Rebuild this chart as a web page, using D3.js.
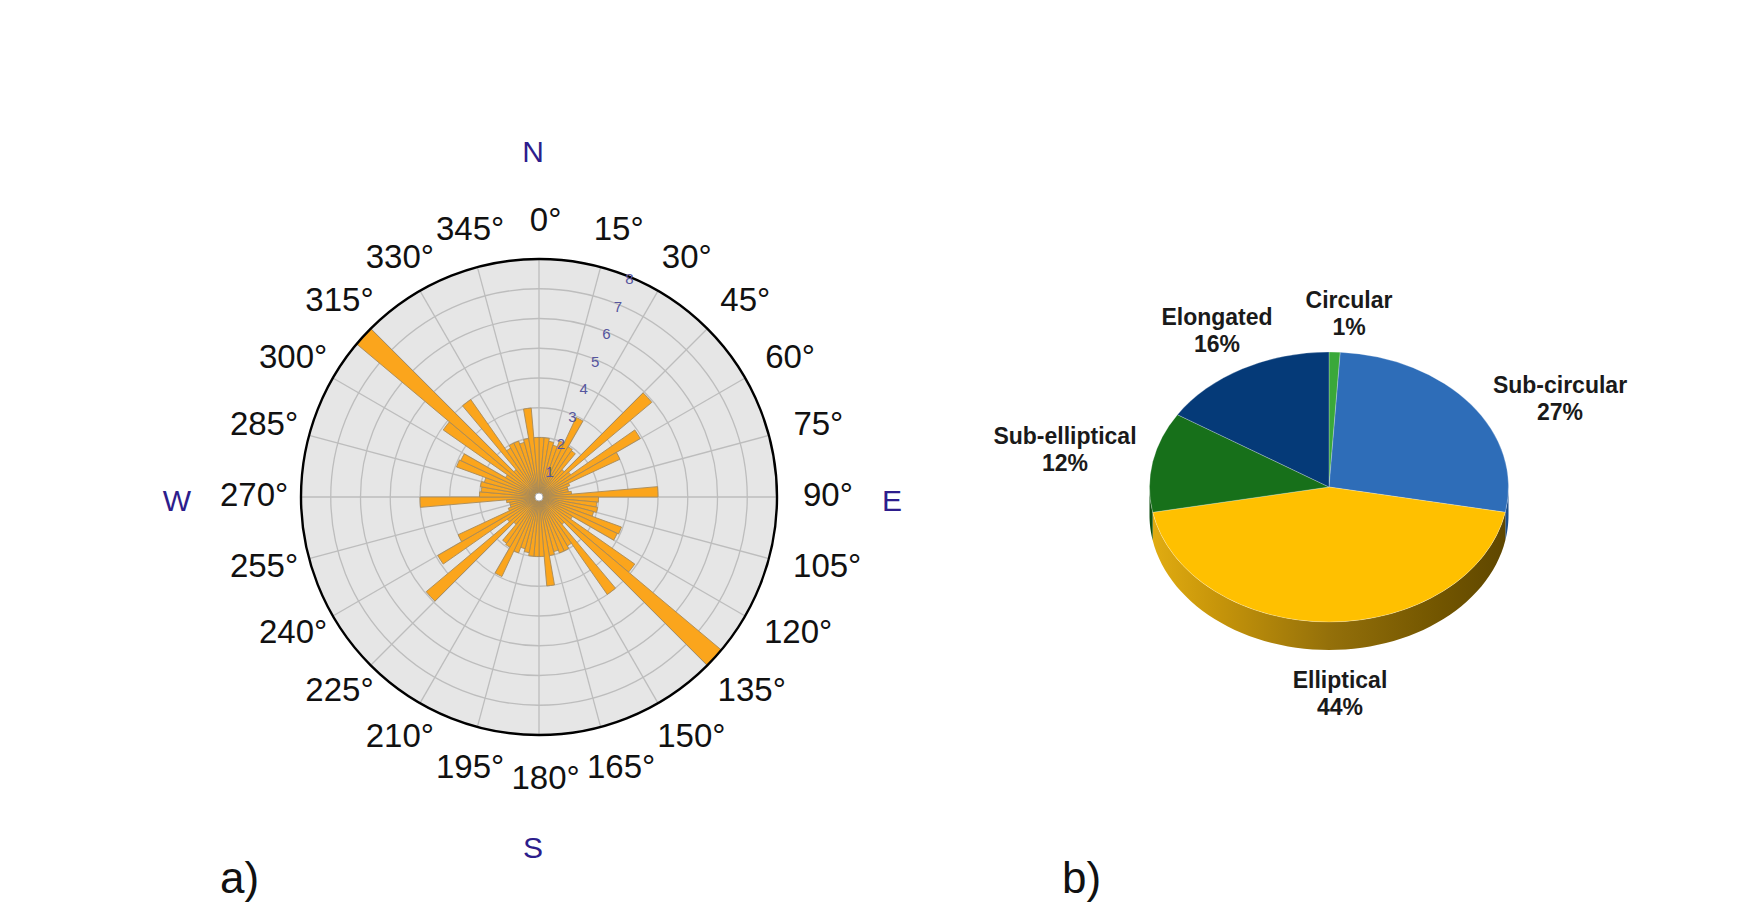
<!DOCTYPE html>
<html><head><meta charset="utf-8">
<script src="https://cdn.jsdelivr.net/npm/d3@7"></script>
<style>body{margin:0;background:#fff}svg{display:block}</style>
</head><body>
<svg id="c" width="1737" height="916"></svg>
<script>
// ---------- DATA ----------
const binWidthDeg = 5;
// counts per 5-degree bin, starting at 0-5 deg, clockwise from North
const roseCounts = [
  2.0, 2.0, 1.9, 1.8, 2.0, 2.95, 1.95, 1.9, 1.2, 4.95, 1.3, 3.93,
  3.0, 1.1, 1.0, 1.0, 1.1, 4.0, 2.0, 1.95, 2.0, 1.9, 2.95, 2.9,
  1.3, 3.93, 8.0, 1.2, 4.0, 1.9, 2.0, 2.0, 1.9, 2.0, 3.0, 2.0,
  2.0, 2.0, 1.9, 1.8, 2.0, 2.95, 1.95, 1.9, 1.2, 4.95, 1.3, 3.93,
  3.0, 1.1, 1.0, 1.0, 1.1, 4.0, 2.0, 1.95, 2.0, 1.9, 2.95, 2.9,
  1.3, 3.93, 8.0, 1.2, 4.0, 1.9, 2.0, 2.0, 1.9, 2.0, 3.0, 2.0
];
const ringTicks = [1, 2, 3, 4, 5, 6, 7, 8];
const angleTicks = [0, 15, 30, 45, 60, 75, 90, 105, 120, 135, 150, 165,
                    180, 195, 210, 225, 240, 255, 270, 285, 300, 315, 330, 345];
const compassLabels = ["N", "E", "S", "W"];

const pieCategories = ["Circular", "Sub-circular", "Elliptical", "Sub-elliptical", "Elongated"];
const pieValues = [1, 27, 44, 12, 16];
const pieColors = ["#3aa83a", "#2e6db8", "#ffc000", "#17701a", "#053a78"];
const pieSideColors = ["#2a8a2a", "#1d4f8c", null, "#0f5010", "#032a58"];

// ---------- ROSE ----------
const svg = d3.select("#c");
const font = "'Liberation Sans', Arial, Helvetica, sans-serif";
const cx = 539, cy = 497, R = 238;
const rScale = d3.scaleLinear().domain([0, 8]).range([0, R]);
const deg = Math.PI / 180;

const rose = svg.append("g").attr("transform", `translate(${cx},${cy})`);
rose.append("circle").attr("r", R).attr("fill", "#e6e6e6");

// grid circles
rose.selectAll("circle.grid").data(ringTicks.slice(0, -1)).join("circle")
  .attr("class", "grid").attr("r", d => rScale(d))
  .attr("fill", "none").attr("stroke", "#bdbdbd").attr("stroke-width", 1.3);
// spokes
rose.selectAll("line.spoke").data(angleTicks).join("line")
  .attr("x1", 0).attr("y1", 0)
  .attr("x2", d => R * Math.sin(d * deg)).attr("y2", d => -R * Math.cos(d * deg))
  .attr("stroke", "#bdbdbd").attr("stroke-width", 1.3);

// bars
const arc = d3.arc();
rose.selectAll("path.bar").data(roseCounts).join("path")
  .attr("class", "bar")
  .attr("d", (v, i) => arc({
    innerRadius: 0, outerRadius: rScale(v),
    startAngle: i * binWidthDeg * deg, endAngle: (i + 1) * binWidthDeg * deg
  }))
  .attr("fill", "#fba51c").attr("stroke", "#a88a58").attr("stroke-width", 0.9)
  .attr("stroke-linejoin", "round");

// center marker
rose.append("circle").attr("r", 4).attr("fill", "#fff").attr("stroke", "#aaa").attr("stroke-width", 1);

// outer circle
rose.append("circle").attr("r", R).attr("fill", "none").attr("stroke", "#000").attr("stroke-width", 2.4);

// ring labels at 22.5 deg
const ringAng = 22.5 * deg;
rose.selectAll("text.rtick").data(ringTicks).join("text")
  .attr("x", d => (rScale(d) - 2) * Math.sin(ringAng))
  .attr("y", d => -(rScale(d) - 2) * Math.cos(ringAng) + 5.4)
  .attr("text-anchor", "middle")
  .attr("font-family", font).attr("font-size", 15).attr("fill", "#55559e")
  .text(d => d);

// angle tick labels
const tickFs = 33, R0 = 264, hh = 11;
angleTicks.forEach(a => {
  const s = Math.sin(a * deg), c = Math.cos(a * deg);
  const t = rose.append("text")
    .attr("font-family", font).attr("font-size", tickFs).attr("fill", "#111")
    .text(String(a));
  const wNum = t.node().getComputedTextLength();
  const px = R0 * s, py = -R0 * c;
  const ncx = px + (wNum / 2) * s;
  const ncy = py - hh * c - 3 + 8 * Math.pow(Math.max(0, -c), 6);
  t.attr("x", ncx - wNum / 2).attr("y", ncy + 0.358 * tickFs);
  t.text(a + "°");
});

// compass labels
const compassPos = { N: [-6, -346], E: [353, 3], S: [-6, 350], W: [-362, 3] };
rose.selectAll("text.comp").data(compassLabels).join("text")
  .attr("x", d => compassPos[d][0]).attr("y", d => compassPos[d][1] + 11)
  .attr("text-anchor", "middle")
  .attr("font-family", font).attr("font-size", 30).attr("fill", "#2d1d8c")
  .text(d => d);

svg.append("text").attr("x", 220).attr("y", 893)
  .attr("font-family", font).attr("font-size", 44).attr("fill", "#111").text("a)");
svg.append("text").attr("x", 1062).attr("y", 893)
  .attr("font-family", font).attr("font-size", 44).attr("fill", "#111").text("b)");

// ---------- PIE ----------
const pcx = 1329, pcy = 487, rx = 179.5, ry = 135, depth = 28;
const pie = d3.pie().sort(null).value(d => d)(pieValues);

const defs = svg.append("defs");
const grad = defs.append("linearGradient").attr("id", "goldSide")
  .attr("gradientUnits", "userSpaceOnUse")
  .attr("x1", pcx - rx).attr("x2", pcx + rx).attr("y1", 0).attr("y2", 0);
[[0, "#e2ad12"], [0.18, "#c8960a"], [0.5, "#94700a"], [0.8, "#735600"], [1, "#5e4600"]]
  .forEach(([o, c]) => grad.append("stop").attr("offset", o).attr("stop-color", c));

const ex = a => pcx + rx * Math.sin(a);
const ey = a => pcy - ry * Math.cos(a);
const sideG = svg.append("g");
pie.forEach((p, i) => {
  const a0 = Math.max(p.startAngle, Math.PI / 2), a1 = Math.min(p.endAngle, 3 * Math.PI / 2);
  if (a1 <= a0) return;
  const n = 60, pts = [];
  for (let k = 0; k <= n; k++) { const a = a0 + (a1 - a0) * k / n; pts.push([ex(a), ey(a)]); }
  for (let k = n; k >= 0; k--) { const a = a0 + (a1 - a0) * k / n; pts.push([ex(a), ey(a) + depth]); }
  sideG.append("path").attr("d", d3.line()(pts) + "Z")
    .attr("fill", pieSideColors[i] || "url(#goldSide)");
});

const topG = svg.append("g").attr("transform", `translate(${pcx},${pcy}) scale(1,${ry / rx})`);
const parc = d3.arc().innerRadius(0).outerRadius(rx);
topG.selectAll("path").data(pie).join("path")
  .attr("d", parc).attr("fill", (d, i) => pieColors[i])
  .attr("stroke", "rgba(255,255,255,0.25)").attr("stroke-width", 1)
  .attr("vector-effect", "non-scaling-stroke");

// pie labels
const pieLabelPos = [[1349, 308], [1560, 393], [1340, 688], [1065, 444], [1217, 325]];
pie.forEach((p, i) => {
  const [x, y] = pieLabelPos[i];
  const t = svg.append("text").attr("text-anchor", "middle")
    .attr("font-family", font).attr("font-size", 23).attr("font-weight", "bold").attr("fill", "#1a1a1a");
  t.append("tspan").attr("x", x).attr("y", y).text(pieCategories[i]);
  t.append("tspan").attr("x", x).attr("y", y + 27).text(pieValues[i] + "%");
});
</script>
</body></html>
